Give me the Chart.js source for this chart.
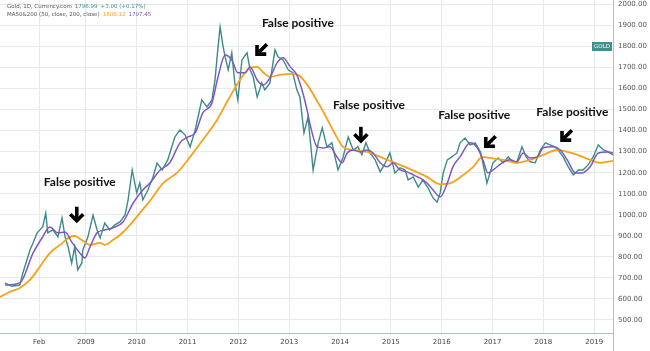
<!DOCTYPE html>
<html>
<head>
<meta charset="utf-8">
<script src="https://cdn.jsdelivr.net/npm/chart.js@4.4.0/dist/chart.umd.min.js"></script>
<style>
  html, body { margin: 0; padding: 0; background: #fff; }
</style>
</head>
<body>
<canvas id="goldChart" width="650" height="351"></canvas>
<script>
// Gold daily close (sampled), x = decimal year
const priceDates = [2007.41,2007.54,2007.70,2007.76,2007.84,2007.90,2007.96,2008.04,2008.15,2008.21,2008.25,2008.35,2008.45,2008.53,2008.59,2008.65,2008.72,2008.78,2008.84,2008.92,2008.94,2009.04,2009.14,2009.22,2009.28,2009.37,2009.47,2009.57,2009.67,2009.77,2009.83,2009.91,2010.00,2010.06,2010.12,2010.22,2010.32,2010.40,2010.50,2010.61,2010.75,2010.85,2010.95,2011.05,2011.15,2011.28,2011.38,2011.48,2011.54,2011.60,2011.64,2011.70,2011.74,2011.80,2011.87,2011.93,2011.99,2012.07,2012.17,2012.23,2012.29,2012.37,2012.46,2012.52,2012.62,2012.72,2012.78,2012.88,2012.98,2013.07,2013.15,2013.21,2013.29,2013.37,2013.47,2013.57,2013.65,2013.74,2013.84,2013.90,2013.96,2014.06,2014.16,2014.26,2014.35,2014.43,2014.51,2014.59,2014.69,2014.79,2014.89,2014.98,2015.08,2015.18,2015.28,2015.34,2015.44,2015.54,2015.63,2015.73,2015.83,2015.91,2015.97,2016.03,2016.11,2016.20,2016.30,2016.36,2016.46,2016.56,2016.66,2016.76,2016.81,2016.89,2016.95,2017.01,2017.11,2017.21,2017.31,2017.41,2017.48,2017.58,2017.66,2017.74,2017.84,2017.94,2018.04,2018.13,2018.23,2018.29,2018.39,2018.49,2018.59,2018.69,2018.78,2018.88,2018.98,2019.08,2019.18,2019.28,2019.37];
const priceValues = [676,660,666,723,785,833,866,914,942,1008,914,928,895,985,895,847,771,847,738,771,833,895,999,928,890,961,928,952,966,999,1070,1213,1104,1151,1071,1118,1180,1246,1213,1261,1370,1403,1380,1323,1403,1546,1513,1546,1641,1798,1893,1798,1751,1689,1770,1627,1546,1736,1770,1689,1656,1560,1627,1594,1627,1784,1751,1736,1689,1675,1594,1560,1389,1465,1213,1342,1413,1323,1342,1275,1213,1275,1370,1308,1323,1285,1342,1294,1261,1204,1247,1294,1199,1223,1213,1166,1180,1132,1166,1128,1080,1060,1104,1199,1261,1275,1294,1342,1365,1332,1342,1299,1247,1151,1199,1247,1270,1247,1275,1247,1252,1323,1275,1252,1247,1308,1342,1332,1323,1308,1275,1228,1190,1213,1213,1237,1275,1332,1308,1299,1285];

// MA 50
const ma50Dates = [2007.41,2007.70,2007.96,2008.15,2008.29,2008.45,2008.59,2008.72,2008.88,2008.98,2009.08,2009.22,2009.37,2009.57,2009.73,2009.93,2010.12,2010.26,2010.46,2010.65,2010.85,2011.01,2011.15,2011.30,2011.48,2011.60,2011.74,2011.87,2011.99,2012.13,2012.23,2012.37,2012.48,2012.62,2012.76,2012.88,2013.02,2013.15,2013.25,2013.35,2013.41,2013.55,2013.67,2013.80,2013.94,2014.04,2014.14,2014.26,2014.39,2014.53,2014.65,2014.79,2014.93,2015.04,2015.18,2015.32,2015.44,2015.57,2015.71,2015.83,2015.97,2016.11,2016.22,2016.36,2016.56,2016.70,2016.81,2016.91,2017.01,2017.19,2017.35,2017.48,2017.60,2017.74,2017.88,2018.00,2018.19,2018.33,2018.47,2018.63,2018.76,2018.92,2019.08,2019.26,2019.37];
const ma50Values = [666,676,818,895,942,914,918,871,818,795,847,914,928,942,966,1056,1118,1151,1213,1247,1342,1370,1389,1484,1532,1656,1760,1736,1675,1675,1703,1641,1617,1650,1722,1746,1703,1665,1594,1499,1430,1323,1318,1323,1275,1247,1294,1308,1299,1308,1294,1247,1228,1247,1213,1204,1190,1175,1151,1118,1085,1151,1228,1275,1342,1318,1261,1199,1213,1247,1261,1252,1294,1270,1275,1318,1323,1308,1261,1199,1199,1228,1294,1299,1294];

// MA 200
const ma200Dates = [2007.31,2007.50,2007.70,2007.90,2008.09,2008.29,2008.49,2008.69,2008.78,2008.92,2009.08,2009.28,2009.37,2009.53,2009.67,2009.87,2010.06,2010.26,2010.52,2010.79,2011.05,2011.30,2011.58,2011.83,2012.03,2012.23,2012.37,2012.48,2012.62,2012.82,2013.02,2013.17,2013.35,2013.55,2013.67,2013.86,2014.06,2014.26,2014.53,2014.93,2015.32,2015.71,2015.97,2016.17,2016.43,2016.62,2016.80,2016.95,2017.21,2017.48,2017.74,2018.00,2018.27,2018.47,2018.67,2018.92,2019.12,2019.37];
const ma200Values = [609,633,652,690,752,818,857,895,899,880,857,866,857,880,904,952,1008,1066,1151,1199,1275,1356,1451,1560,1641,1698,1703,1679,1656,1665,1670,1665,1620,1540,1490,1403,1323,1308,1299,1261,1223,1180,1145,1150,1190,1228,1275,1270,1261,1247,1261,1285,1308,1299,1285,1261,1247,1256];

// Axis ticks
const xTickValues = [2008.08,2009,2010,2011,2012,2013,2014,2015,2016,2017,2018,2019];
const xTickLabels = ['Feb','2009','2010','2011','2012','2013','2014','2015','2016','2017','2018','2019'];
const yTickValues = [500,600,700,800,900,1000,1100,1200,1300,1400,1500,1600,1700,1800,1900,2000];

// Callouts: [text x, text y, arrow x, arrow y, arrow angle]
const noteText = 'False positive';
const notes = [
  [2008.88, 1156, 2008.82, 1000, 0],
  [2013.17, 1912, 2012.45, 1784, Math.PI / 4],
  [2014.57, 1522, 2014.41, 1380, 0],
  [2016.64, 1475, 2016.95, 1346, Math.PI / 4],
  [2018.57, 1487, 2018.45, 1375, Math.PI / 4]
];

const toXY = (xs, ys) => xs.map((x, i) => ({ x: x, y: ys[i] }));

function drawArrow(ctx, x, y, angle) {
  ctx.save();
  ctx.translate(x, y);
  ctx.rotate(angle);
  ctx.strokeStyle = '#000';
  ctx.lineWidth = 3.6;
  ctx.lineJoin = 'miter';
  ctx.beginPath();
  ctx.moveTo(0, -8);
  ctx.lineTo(0, 5);
  ctx.stroke();
  ctx.beginPath();
  ctx.moveTo(-6.5, -0.5);
  ctx.lineTo(0, 6);
  ctx.lineTo(6.5, -0.5);
  ctx.stroke();
  ctx.restore();
}

const extras = {
  id: 'extras',
  afterDraw(chart) {
    const ctx = chart.ctx;
    const xs = chart.scales.x, ys = chart.scales.y;
    const area = chart.chartArea;
    ctx.save();

    // price scale separator
    ctx.strokeStyle = '#a9c6c6';
    ctx.lineWidth = 1;
    ctx.beginPath();
    ctx.moveTo(area.right + 0.5, 0);
    ctx.lineTo(area.right + 0.5, chart.height);
    ctx.stroke();

    // legend header
    ctx.font = '5.5px "DejaVu Sans"';
    ctx.textBaseline = 'middle';
    ctx.textAlign = 'left';
    const row = (y, parts) => {
      let x = 7;
      parts.forEach(p => {
        ctx.fillStyle = p[1];
        ctx.fillText(p[0], x, y);
        x += ctx.measureText(p[0]).width + 3;
      });
    };
    row(7, [['Gold, 1D, Currency.com', '#555'], ['1796.99', '#3b8d8d'], ['+3.00 (+0.17%)', '#3b8d8d']]);
    row(15, [['MA50&200 (50, close, 200, close)', '#555'], ['1808.12', '#f7a21b'], ['1797.45', '#7e57c2']]);

    // GOLD tag
    const gy = ys.getPixelForValue(1800);
    ctx.fillStyle = '#3f8f8b';
    ctx.fillRect(area.right - 21, gy - 4.5, 20, 9);
    ctx.fillStyle = '#fff';
    ctx.font = '5.5px "DejaVu Sans"';
    ctx.textAlign = 'center';
    ctx.fillText('GOLD', area.right - 11, gy);

    // callouts
    ctx.fillStyle = '#111';
    ctx.font = 'bold 12px Lato';
    notes.forEach(n => {
      ctx.fillText(noteText, xs.getPixelForValue(n[0]), ys.getPixelForValue(n[1]));
      drawArrow(ctx, xs.getPixelForValue(n[2]), ys.getPixelForValue(n[3]), n[4]);
    });
    ctx.restore();
  }
};

new Chart(document.getElementById('goldChart'), {
  type: 'line',
  data: {
    datasets: [
      {
        label: 'MA50',
        data: toXY(ma50Dates, ma50Values),
        borderColor: '#7e57c2',
        borderWidth: 1.5,
        pointRadius: 0,
        cubicInterpolationMode: 'monotone'
      },
      {
        label: 'MA200',
        data: toXY(ma200Dates, ma200Values),
        borderColor: '#f7a21b',
        borderWidth: 1.8,
        pointRadius: 0,
        cubicInterpolationMode: 'monotone'
      },
      {
        label: 'Gold',
        data: toXY(priceDates, priceValues),
        borderColor: '#3e8a87',
        borderWidth: 1.4,
        pointRadius: 0,
        tension: 0
      }
    ]
  },
  options: {
    responsive: false,
    animation: false,
    devicePixelRatio: 1,
    layout: { padding: 0 },
    plugins: { legend: { display: false }, tooltip: { enabled: false } },
    scales: {
      x: {
        type: 'linear',
        min: 2007.31,
        max: 2019.37,
        afterBuildTicks: s => { s.ticks = xTickValues.map(v => ({ value: v })); },
        afterFit: s => { s.height = 18; s.paddingLeft = 0; s.paddingRight = 0; },
        ticks: {
          autoSkip: false,
          maxRotation: 0,
          padding: 5,
          color: '#444',
          font: { size: 7, family: 'DejaVu Sans' },
          callback: (v, i) => xTickLabels[i]
        },
        grid: { color: '#e7eaed', drawTicks: false },
        border: { color: '#a9c6c6' }
      },
      y: {
        position: 'right',
        min: 438,
        max: 2021,
        afterBuildTicks: s => { s.ticks = yTickValues.map(v => ({ value: v })); },
        afterFit: s => { s.width = 37; s.paddingTop = 0; s.paddingBottom = 0; },
        ticks: {
          padding: 5,
          color: '#555',
          font: { size: 7, family: 'DejaVu Sans' },
          callback: v => v.toFixed(2)
        },
        grid: { color: '#e7eaed', drawTicks: false },
        border: { color: '#a9c6c6' }
      }
    }
  },
  plugins: [extras]
});
</script>
</body>
</html>
